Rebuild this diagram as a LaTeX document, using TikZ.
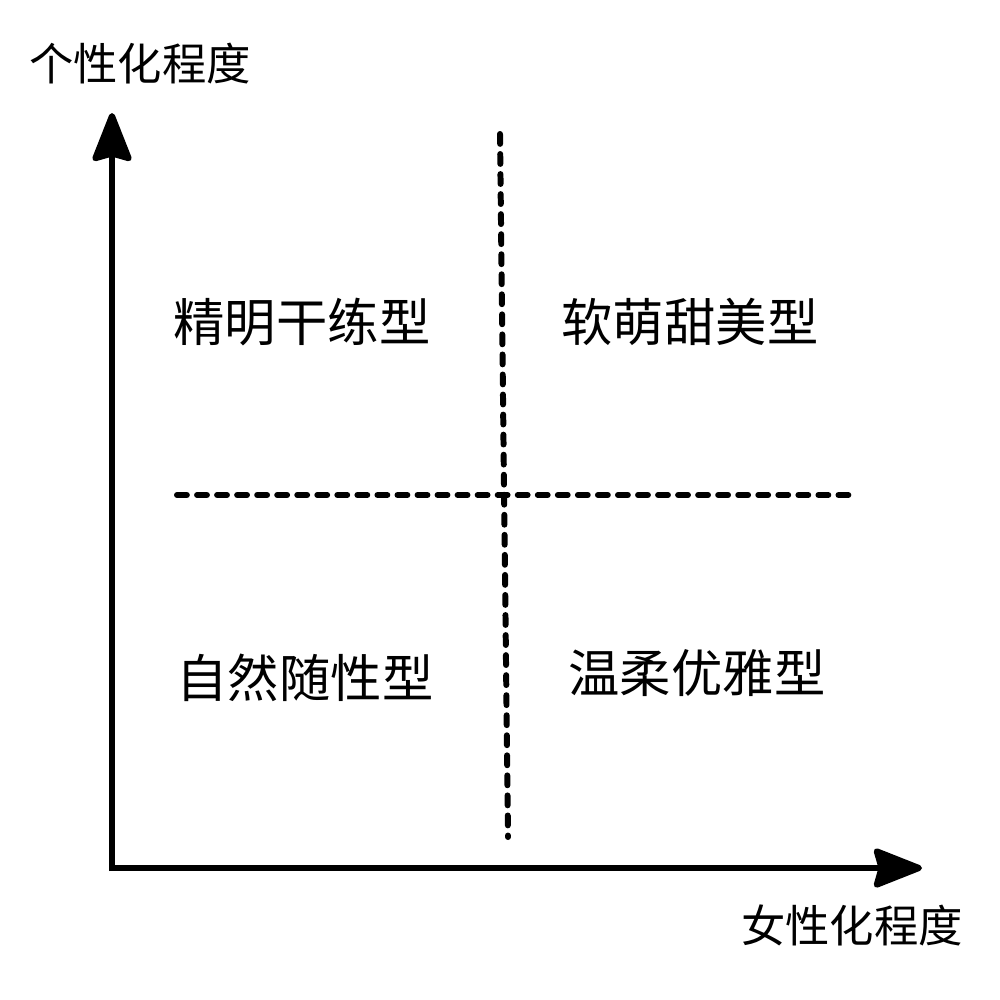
\documentclass[tikz,border=0pt]{standalone}
\usepackage{fontspec}
\newfontfamily\cjk{Noto Sans CJK SC}
\usetikzlibrary{arrows.meta}
\begin{document}
\begin{tikzpicture}[x=0.01cm,y=-0.01cm,
  axis/.style={line width=1.7pt,-{Stealth[length=15.5pt,width=12pt,inset=1.6pt,round]}},
  divider/.style={line width=1.7pt,line cap=round,dash pattern=on 2.8pt off 2.9pt},
  quad/.style={font=\cjk\fontsize{14.6pt}{16pt}\selectfont,inner sep=0pt},
  axlabel/.style={font=\cjk\fontsize{12.6pt}{14pt}\selectfont,inner sep=0pt}]
\useasboundingbox (0,0) rectangle (1000,1000);
\coordinate (O) at (112,868);
\coordinate (ytip) at (112,113);
\coordinate (xtip) at (922,868);
\coordinate (vtop) at (500,134);
\coordinate (vbot) at (508,837);
\coordinate (hleft) at (177,495);
\coordinate (hright) at (849,495);
\draw[axis,line cap=butt] ([yshift=-0.85pt]O) -- (ytip);
\draw[axis] (O) -- (xtip);
\draw[divider] (vtop) -- (vbot);
\draw[divider] (hleft) -- (hright);
\node[axlabel] (ylab) at (140,64) {个性化程度};
\node[axlabel] (xlab) at (852,925) {女性化程度};
\node[quad] (q1) at (302,322) {精明干练型};
\node[quad] (q2) at (690,322) {软萌甜美型};
\node[quad] (q3) at (305,678) {自然随性型};
\node[quad] (q4) at (697,673) {温柔优雅型};
\end{tikzpicture}
\end{document}
